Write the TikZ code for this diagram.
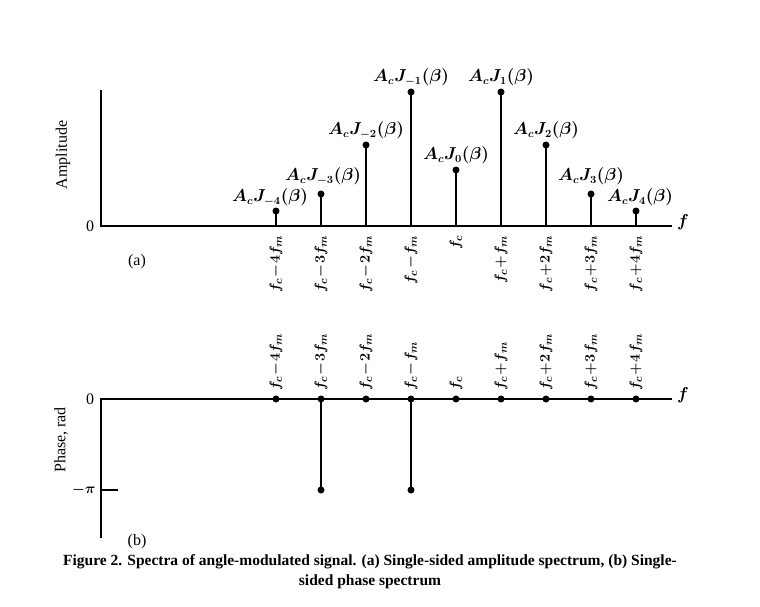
\documentclass[tikz,border=0pt]{standalone}
\usepackage{fontspec}
\setmainfont{Liberation Serif}
\usetikzlibrary{positioning}
\begin{document}
\begin{tikzpicture}[x=1pt,y=-1pt,
  ax/.style={line width=1.5pt},
  stem/.style={line width=2pt},
  dotc/.style={circle,fill=black,inner sep=0pt,minimum size=7pt},
  lab/.style={font=\fontsize{16}{18}\selectfont\boldmath,inner sep=1pt},
  flab/.style={font=\fontsize{15}{18}\selectfont\boldmath,rotate=90,inner sep=1pt},
  txt/.style={font=\fontsize{16}{18}\selectfont}]
\useasboundingbox (0,0) rectangle (760,607);
% amplitude axes
\coordinate (a0) at (101,226);
\coordinate (atop) at (101,90);
\coordinate (aend) at (672,226);
\draw[ax] (atop) -- (a0) -- (aend);
\node[lab] at (683,222) {$f$};
\node[txt] at (90,226) {0};
\node[txt,rotate=90] at (63,155) {Amplitude};
\node[txt] at (137,262) {(a)};
% stems
\foreach \x/\t [count=\i] in {276/211,321/194,366/145,411/92,456/170,501/92,546/145,591/194,636/211}{
  \coordinate (b\i) at (\x,226);
  \node[dotc] (t\i) at (\x,\t) {};
  \draw[stem] (b\i) -- (t\i.center);
}
\node[lab,above=0pt of t1,xshift=-6pt] {$A_cJ_{-4}(\beta)$};
\node[lab,above=4pt of t2,xshift=2pt] {$A_cJ_{-3}(\beta)$};
\node[lab,above=1pt of t3] {$A_cJ_{-2}(\beta)$};
\node[lab,above=1pt of t4] {$A_cJ_{-1}(\beta)$};
\node[lab,above=1pt of t5] {$A_cJ_{0}(\beta)$};
\node[lab,above=1pt of t6] {$A_cJ_{1}(\beta)$};
\node[lab,above=1pt of t7] {$A_cJ_{2}(\beta)$};
\node[lab,above=4pt of t8] {$A_cJ_{3}(\beta)$};
\node[lab,above=0pt of t9,xshift=4pt] {$A_cJ_{4}(\beta)$};
% frequency labels
\foreach \x/\l [count=\i] in {276/{f_c\!-\!4f_m},321/{f_c\!-\!3f_m},366/{f_c\!-\!2f_m},411/{f_c\!-\!f_m},456/{f_c},501/{f_c\!+\!f_m},546/{f_c\!+\!2f_m},591/{f_c\!+\!3f_m},636/{f_c\!+\!4f_m}}{
  \node[flab,anchor=east] (fl\i) at (\x,234) {$\l$};
  \node[flab,anchor=west] (fp\i) at (\x,392) {$\l$};
  \node[dotc] (p\i) at (\x,399) {};
}
% phase axes
\coordinate (p0) at (101,399);
\coordinate (pbot) at (101,538);
\coordinate (pend) at (672,399);
\coordinate (pit) at (118,490);
\coordinate (pib) at (101,490);
\draw[ax] (pbot) -- (p0) -- (pend);
\draw[ax] (pib) -- (pit);
\node[lab] at (683,395) {$f$};
\node[txt] at (90,399) {0};
\node[txt,anchor=east,font=\fontsize{15}{18}\selectfont\boldmath] at (99,490) {$-\pi$};
\node[txt,rotate=90] at (61,440) {Phase, rad};
\node[txt] at (137,542) {(b)};
\node[dotc] (q2) at (321,490) {};
\node[dotc] (q4) at (411,490) {};
\draw[stem] (p2.center) -- (q2.center);
\draw[stem] (p4.center) -- (q4.center);
% caption
\node[font=\bfseries\fontsize{15.5}{20}\selectfont,align=center] at (370,572) {Figure 2. Spectra of angle-modulated signal. (a) Single-sided amplitude spectrum, (b) Single-\\sided phase spectrum};
\end{tikzpicture}
\end{document}
